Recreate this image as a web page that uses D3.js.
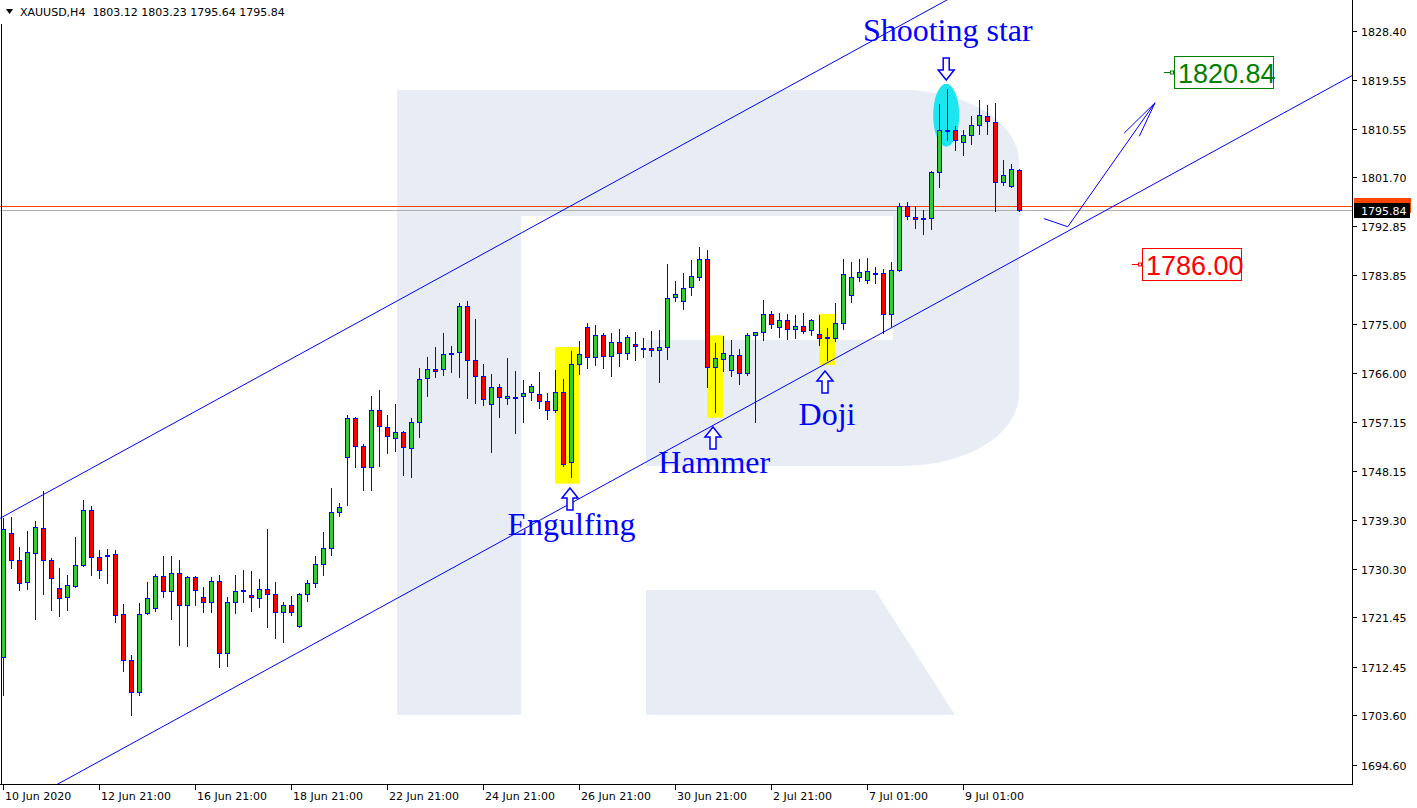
<!DOCTYPE html>
<html><head><meta charset="utf-8">
<script src="https://cdn.jsdelivr.net/npm/d3@7"></script>
<style>body{margin:0;background:#fff}svg{display:block}</style>
</head><body><svg id="c" width="1417" height="808"></svg>
<script>
// ---- data (XAUUSD H4) ----
const opens = [1714.18,1736.79,1731.87,1727.86,1733.15,1737.71,1731.87,1726.76,1725.12,1727.19,1730.96,1740.99,1732.42,1732.85,1732.96,1722.02,1713.63,1707.80,1722.20,1723.12,1728.95,1726.22,1729.50,1723.67,1728.77,1725.13,1724.21,1728.04,1714.91,1724.21,1726.30,1725.49,1724.94,1726.59,1725.67,1722.39,1723.67,1719.84,1725.67,1727.68,1731.15,1734.12,1740.70,1750.65,1757.77,1752.66,1748.83,1759.22,1756.12,1754.12,1755.21,1752.30,1757.04,1765.06,1766.70,1766.70,1769.50,1769.80,1778.19,1768.34,1765.43,1760.32,1763.42,1761.42,1761.60,1761.78,1762.51,1762.15,1760.87,1759.23,1762.51,1749.75,1767.62,1774.37,1768.89,1772.91,1769.08,1771.63,1769.62,1771.27,1770.65,1770.54,1770.17,1770.72,1779.83,1779.10,1781.66,1783.48,1786.76,1767.07,1768.53,1766.52,1769.26,1765.97,1772.90,1773.45,1776.73,1774.36,1775.64,1774.00,1774.54,1773.87,1773.08,1772.55,1772.47,1775.08,1780.19,1783.47,1782.93,1784.30,1784.20,1776.72,1784.75,1796.42,1794.41,1794.25,1794.23,1802.62,1810.34,1810.28,1808.09,1809.37,1811.19,1812.83,1811.74,1800.80,1800.07,1803.12];
const highs = [1739.53,1739.77,1734.30,1737.22,1739.04,1744.45,1732.23,1730.41,1729.13,1736.13,1742.87,1741.78,1733.75,1733.94,1733.75,1723.91,1714.61,1724.09,1727.92,1729.32,1732.66,1732.66,1731.93,1729.00,1729.00,1727.07,1728.77,1729.20,1725.13,1729.20,1730.11,1729.93,1728.41,1737.59,1727.92,1724.21,1725.31,1725.92,1728.29,1732.66,1737.04,1745.00,1742.30,1758.37,1758.01,1753.09,1761.84,1762.93,1758.37,1760.32,1755.40,1757.83,1766.88,1768.89,1770.77,1773.33,1770.96,1778.74,1779.16,1775.88,1767.67,1765.85,1763.97,1768.71,1766.40,1764.76,1763.97,1766.22,1762.33,1766.58,1764.88,1769.99,1771.81,1775.09,1774.73,1773.27,1773.27,1774.00,1772.91,1773.45,1772.36,1773.64,1773.88,1785.91,1782.75,1784.27,1786.58,1789.01,1788.47,1771.45,1772.72,1771.99,1770.35,1773.27,1773.50,1779.29,1777.28,1776.92,1776.73,1776.55,1776.92,1775.93,1776.60,1774.17,1778.73,1786.75,1786.21,1786.75,1786.94,1785.30,1784.93,1786.27,1796.97,1797.15,1796.42,1795.69,1802.80,1815.02,1817.82,1811.01,1810.34,1812.83,1815.75,1814.90,1815.27,1804.81,1804.08,1803.23];
const lows = [1707.31,1730.53,1726.52,1726.70,1721.23,1725.79,1722.87,1721.78,1722.87,1727.07,1730.84,1729.26,1728.71,1727.80,1720.68,1711.75,1703.72,1707.37,1722.10,1722.69,1725.12,1721.23,1716.49,1716.31,1723.73,1722.51,1722.51,1712.48,1712.67,1722.21,1724.34,1722.70,1723.36,1719.78,1717.65,1717.04,1721.97,1719.78,1724.52,1727.00,1729.20,1732.84,1739.90,1742.00,1748.95,1744.70,1744.70,1749.13,1751.50,1751.87,1747.49,1747.13,1754.42,1761.90,1765.37,1765.73,1766.28,1765.24,1761.53,1760.62,1760.26,1751.69,1758.07,1760.32,1755.16,1757.16,1761.05,1759.71,1757.59,1758.86,1749.14,1747.13,1765.79,1766.89,1767.43,1766.89,1765.43,1767.25,1768.53,1768.35,1768.89,1769.08,1764.45,1768.53,1779.10,1777.65,1780.20,1782.93,1763.42,1758.86,1766.34,1765.43,1763.97,1765.61,1757.04,1771.99,1774.18,1772.54,1772.17,1772.36,1773.27,1772.90,1771.10,1768.40,1771.80,1773.99,1779.03,1782.74,1782.38,1782.38,1773.26,1774.66,1784.70,1794.05,1792.41,1791.31,1792.23,1800.01,1808.46,1806.63,1805.72,1807.73,1809.55,1809.55,1795.51,1800.25,1800.00,1795.64];
const closes = [1737.52,1731.87,1727.67,1733.33,1737.89,1731.87,1728.59,1724.94,1727.31,1730.96,1740.99,1732.42,1730.05,1732.80,1721.84,1713.63,1707.80,1722.02,1724.94,1728.95,1726.22,1729.50,1723.66,1728.77,1726.40,1724.21,1728.04,1714.91,1724.21,1726.22,1726.40,1725.13,1726.59,1725.67,1722.39,1723.67,1722.39,1725.67,1727.68,1731.15,1734.06,1740.68,1741.60,1757.77,1752.66,1748.83,1759.22,1756.31,1754.48,1755.21,1752.48,1757.04,1764.88,1766.70,1766.34,1769.44,1769.60,1778.19,1768.34,1765.43,1761.23,1763.42,1761.72,1761.78,1761.50,1762.33,1763.60,1760.87,1759.23,1762.51,1749.38,1767.62,1769.44,1768.89,1772.91,1769.08,1771.63,1769.62,1772.54,1770.90,1770.60,1770.17,1770.72,1779.65,1780.38,1781.48,1783.66,1786.76,1767.07,1768.71,1769.62,1769.26,1765.97,1772.90,1773.45,1776.73,1774.91,1775.64,1774.00,1774.54,1773.63,1775.69,1772.47,1772.50,1775.08,1784.02,1783.47,1784.38,1784.57,1784.35,1776.72,1784.75,1796.48,1794.60,1794.05,1794.20,1802.62,1810.28,1810.30,1808.46,1809.37,1811.19,1813.02,1811.92,1800.80,1802.07,1803.17,1795.84];

const priceTicks = [1828.40,1819.55,1810.55,1801.70,1792.85,1783.85,1775.00,1766.00,1757.15,1748.15,1739.30,1730.30,1721.45,1712.45,1703.60,1694.60];
const timeTickIdx = [0,12,24,36,48,60,72,84,96,108,120];
const timeTickLabels = ["10 Jun 2020","12 Jun 21:00","16 Jun 21:00","18 Jun 21:00","22 Jun 21:00","24 Jun 21:00","26 Jun 21:00","30 Jun 21:00","2 Jul 21:00","7 Jul 01:00","9 Jul 01:00"];

const lastBid = 1795.84, lastAsk = 1796.55;
const header = "XAUUSD,H4  1803.12 1803.23 1795.64 1795.84";

// channel lines: [index, price] anchors
const upperChannel = [[0,1739.83],[160,1867.61]];
const lowerChannel = [[0,1685.60],[180,1829.35]];
// forecast path
const forecastPath = [[130.1,1794.2],[133.1,1792.7],[144.0,1815.3]];
const forecastHead = [[140.16,1809.8],[142.04,1809.2]];
const targets = [{v:"1820.84", i:146.4, color:"#008000"},{v:"1786.00", i:142.4, color:"#FF0000"}];

const boxes = [{i0:69,i1:72,top:1770.77,bot:1745.85},{i0:88,i1:90,top:1772.91,bot:1757.88},{i0:102,i1:104,top:1776.79,bot:1767.49}];
const star = {i:117.9, p:1813.03, dp:5.74};
const notes = [{t:"Shooting star",i:118.1,p:1826.6},{t:"Engulfing",i:71.06,p:1736.49},{t:"Hammer",i:88.9,p:1747.8},{t:"Doji",i:103.0,p:1756.55}];
const arrows = [{i:70.875,p:1745.06,dir:"up"},{i:88.75,p:1756.18,dir:"up"},{i:102.75,p:1766.40,dir:"up"},{i:117.9,p:1823.48,dir:"down"}];

// ---- scales ----
const W=1417,H=808, plotR=1352, plotB=784;
const x = d3.scaleLinear().domain([0,127]).range([3,1019]);
const y = d3.scaleLinear().domain([1694.60,1828.40]).range([764.7,31]);
const svg = d3.select("#c");
svg.append("rect").attr("width",W).attr("height",H).attr("fill","#fff");
svg.append("defs").append("clipPath").attr("id","plot").append("rect").attr("x",0).attr("y",0).attr("width",plotR).attr("height",plotB);

// watermark logo
const bg = svg.append("g").attr("clip-path","url(#plot)");
bg.append("path").attr("fill","#E8EDF5")
  .attr("d","M397,90 H903 A116,72 0 0 1 1019,162 V394 A116,72 0 0 1 903,466 H646 V340 H893 V216 H521 V715 H397 Z");
bg.append("path").attr("fill","#E8EDF5").attr("d","M646,590 H875 L955,715 H646 Z");

const g = svg.append("g").attr("clip-path","url(#plot)");

// price lines
g.append("line").attr("x1",0).attr("x2",plotR).attr("y1",Math.round(y(lastBid))+0.5).attr("y2",Math.round(y(lastBid))+0.5).attr("stroke","#B0B0B0");
g.append("line").attr("x1",0).attr("x2",plotR).attr("y1",Math.round(y(lastAsk))+0.5).attr("y2",Math.round(y(lastAsk))+0.5).attr("stroke","#FF4500");

// highlight boxes
boxes.forEach(b=>{
  g.append("rect").attr("x",x(b.i0)).attr("y",y(b.top)).attr("width",x(b.i1)-x(b.i0)).attr("height",y(b.bot)-y(b.top)).attr("fill","#FFFF00");
});
g.append("ellipse").attr("cx",x(star.i)).attr("cy",y(star.p)).attr("rx",13).attr("ry",y(star.p-star.dp)-y(star.p)).attr("fill","#1CE6F0");

// channel
const ln = d3.line().x(d=>x(d[0])).y(d=>y(d[1]));
[upperChannel,lowerChannel].forEach(c=>{
  const a=c[0], b=c[1];
  g.append("path").attr("d",ln([[-10,a[1]-10*(b[1]-a[1])/(b[0]-a[0])],b])).attr("fill","none").attr("stroke","#0000FF").attr("stroke-width",1);
});

// candles
const idx = d3.range(opens.length);
const cg = g.append("g");
idx.forEach(i=>{
  const cx = Math.round(x(i));
  cg.append("line").attr("x1",cx+0.5).attr("x2",cx+0.5).attr("y1",Math.round(y(highs[i]))).attr("y2",Math.round(y(lows[i]))+1).attr("stroke","#0000FF");
  const t = Math.round(y(Math.max(opens[i],closes[i]))), b = Math.round(y(Math.min(opens[i],closes[i])));
  const bull = closes[i]>=opens[i];
  cg.append("rect").attr("x",cx-1.5).attr("y",t+0.5).attr("width",4).attr("height",Math.max(1,b-t))
    .attr("fill",bull?"#32CD32":"#FF0000").attr("stroke","#0000FF").attr("stroke-width",1);
});

// forecast arrow
g.append("path").attr("d",ln(forecastPath)).attr("fill","none").attr("stroke","#0000FF");
const tip = forecastPath[forecastPath.length-1];
forecastHead.forEach(h=>g.append("path").attr("d",ln([tip,h])).attr("fill","none").attr("stroke","#0000FF"));

// target labels
targets.forEach(t=>{
  const yy = Math.round(y(+t.v))+0.5, bx = Math.round(x(t.i));
  g.append("line").attr("x1",bx-10).attr("x2",bx-2).attr("y1",yy).attr("y2",yy).attr("stroke",t.color);
  g.append("rect").attr("x",bx-3.5).attr("y",yy-1.5).attr("width",3).attr("height",3).attr("fill","#fff").attr("stroke",t.color);
  g.append("rect").attr("x",bx+0.5).attr("y",yy-16).attr("width",99).attr("height",32).attr("fill","#fff").attr("stroke",t.color);
  g.append("text").attr("x",bx+4).attr("y",yy+10).attr("font-family","Liberation Sans, Arial").attr("font-size",27).attr("fill",t.color).text(t.v);
});

// annotation arrows
arrows.forEach(a=>{
  const cx = x(a.i), ty = y(a.p);
  let d;
  if(a.dir==="up") d=`M${cx},${ty} L${cx+8},${ty+10} L${cx+3},${ty+10} L${cx+3},${ty+22} L${cx-3},${ty+22} L${cx-3},${ty+10} L${cx-8},${ty+10} Z`;
  else d=`M${cx-3},${ty} L${cx+3},${ty} L${cx+3},${ty+12} L${cx+8},${ty+12} L${cx},${ty+22} L${cx-8},${ty+12} L${cx-3},${ty+12} Z`;
  g.append("path").attr("d",d).attr("fill","#fff").attr("stroke","#0000FF").attr("stroke-width",1.5);
});
notes.forEach(n=>{
  g.append("text").attr("x",x(n.i)).attr("y",y(n.p)).attr("text-anchor","middle").attr("font-family","Liberation Serif, Times New Roman, serif").attr("font-size",32).attr("fill","#0000FF").text(n.t);
});

// axes frame
svg.append("line").attr("x1",plotR+0.5).attr("x2",plotR+0.5).attr("y1",0).attr("y2",plotB+1).attr("stroke","#000");
svg.append("line").attr("x1",0).attr("x2",plotR+1).attr("y1",plotB+0.5).attr("y2",plotB+0.5).attr("stroke","#000");
svg.append("line").attr("x1",1.5).attr("x2",1.5).attr("y1",24).attr("y2",plotB).attr("stroke","#000");

// price axis
const fnt = "DejaVu Sans, Verdana, sans-serif";
priceTicks.forEach(v=>{
  const yy = Math.round(y(v))+0.5;
  svg.append("line").attr("x1",plotR+1).attr("x2",plotR+5).attr("y1",yy).attr("y2",yy).attr("stroke","#000");
  svg.append("text").attr("x",1361).attr("y",yy+4).attr("font-family",fnt).attr("font-size",11).attr("fill","#000").text(v.toFixed(2));
});
// ask / bid labels (ask label mostly hidden behind the bid label, as in the terminal)
const ay = Math.round(y(lastAsk)), by = Math.round(y(lastBid));
svg.append("rect").attr("x",1354).attr("y",ay-8).attr("width",57).attr("height",15).attr("fill","#FF4500");
svg.append("rect").attr("x",1354).attr("y",by-7).attr("width",56).attr("height",15).attr("fill","#000");
svg.append("text").attr("x",1361).attr("y",by+5).attr("font-family",fnt).attr("font-size",11).attr("fill","#fff").text(lastBid.toFixed(2));

// time axis
timeTickIdx.forEach((i,k)=>{
  const xx = Math.round(x(i))+0.5;
  svg.append("line").attr("x1",xx).attr("x2",xx).attr("y1",plotB+1).attr("y2",plotB+6).attr("stroke","#000");
  svg.append("text").attr("x",xx+1.5).attr("y",800).attr("font-family",fnt).attr("font-size",11).attr("fill","#000").text(timeTickLabels[k]);
});

// header
svg.append("rect").attr("x",0).attr("y",0).attr("width",300).attr("height",23).attr("fill","#fff");
svg.append("path").attr("d","M6,9 L13,9 L9.5,14 Z").attr("fill","#000");
svg.append("text").attr("x",20).attr("y",16).attr("font-family",fnt).attr("font-size",11).attr("fill","#000").attr("xml:space","preserve").style("white-space","pre").text(header);
</script></body></html>
